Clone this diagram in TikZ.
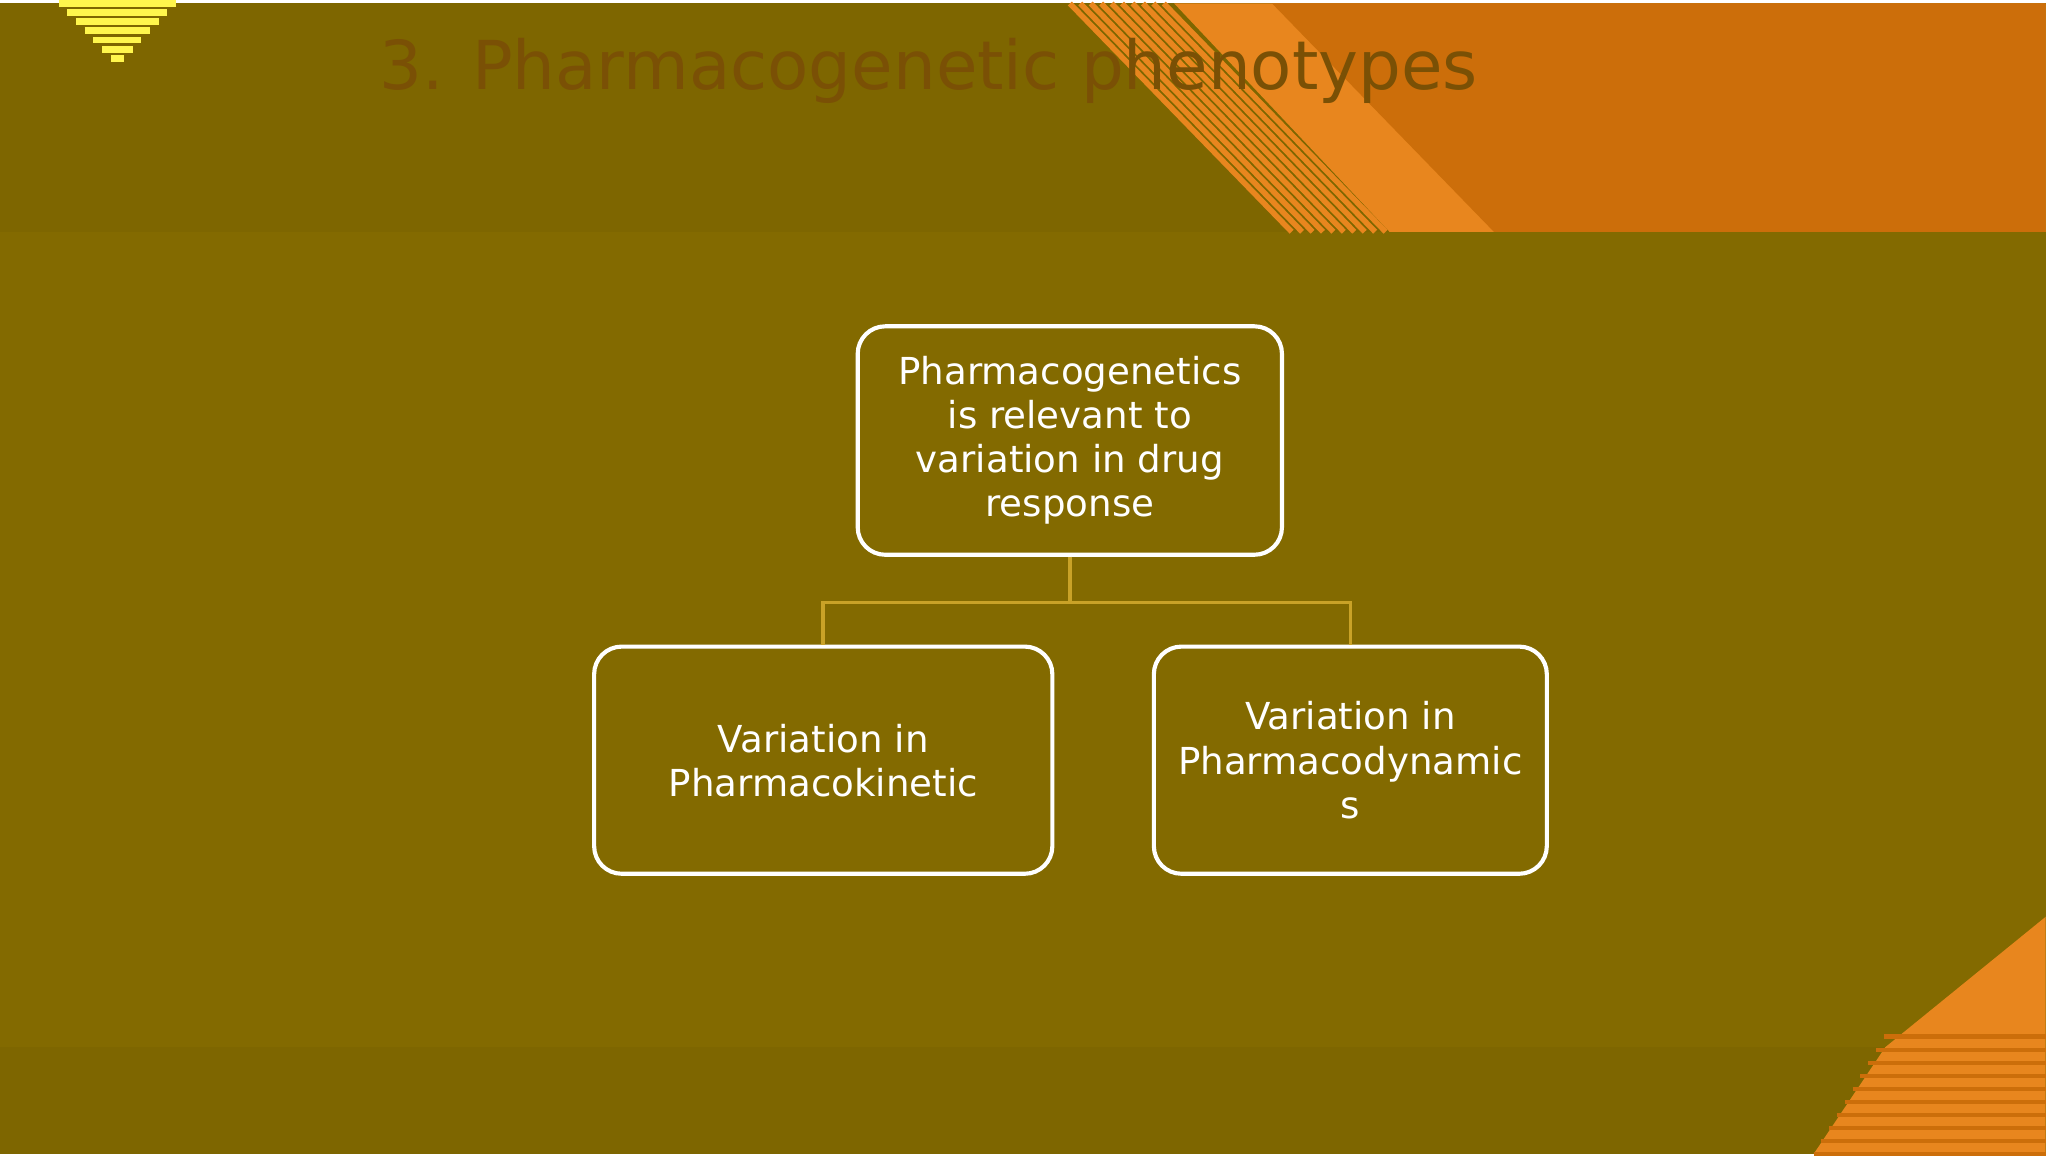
\documentclass[tikz,border=0pt]{standalone}
\usepackage{fontspec}
\setmainfont{DejaVu Sans}
\usetikzlibrary{positioning,calc}
\definecolor{olive}{HTML}{836A00}
\definecolor{oliveband}{HTML}{7E6600}
\definecolor{lightorange}{HTML}{E8861E}
\definecolor{darkorange}{HTML}{CC6E0A}
\definecolor{titlebrown}{HTML}{7A5005}
\definecolor{linkgold}{HTML}{C9A227}
\begin{document}
\begin{tikzpicture}[x=0.01cm,y=-0.01cm]
  \tikzstyle{box}=[draw=white, line width=0.9pt, rounded corners=6pt, align=center, text=white, font=\fontsize{8.1}{9.6}\selectfont, inner sep=0pt]
  \tikzstyle{link}=[-, linkgold, line width=0.8pt]
  
  % Hintergrund
  \fill[olive] (0,0) rectangle (1568,882);
  \fill[oliveband] (0,0) rectangle (1568,175);
  \fill[oliveband] (0,800) rectangle (1568,882);
  \fill[lightorange] (900,0) -- (1568,0) -- (1568,175) -- (1065,175) -- cycle;
  \fill[darkorange] (975,0) -- (1568,0) -- (1568,175) -- (1145,175) -- cycle;
  \foreach \d in {0,8,...,72} {
    \draw[lightorange, line width=1.2pt] (820+\d,0) -- (990+\d,175);
  }
  \foreach \d in {0,7,...,42} {
    \draw[yellow!70!white, line width=1.5pt] (45+\d*0.95,\d) -- (135-\d*0.95,\d);
  }
  \fill[lightorange] (1445,800) -- (1568,700) -- (1568,882) -- (1390,882) -- cycle;
  \foreach \d in {0,10,...,90} {
    \draw[darkorange, line width=1pt] (1390+\d*0.6,882-\d) -- (1568,882-\d);
  }
  
  % Titel
  \node[text=titlebrown, font=\fontsize{14.7}{18}\selectfont, anchor=west, inner sep=0pt] (title) at (290,52) {3. Pharmacogenetic phenotypes};
  
  % Kästen
  \node[box, minimum width=3.25cm, minimum height=1.75cm] (root) at (820,335) {Pharmacogenetics\\is relevant to\\variation in drug\\response};
  \node[box, minimum width=3.51cm, minimum height=1.74cm] (kin) at (631,580) {Variation in\\Pharmacokinetic};
  \node[box, minimum width=3.01cm, minimum height=1.74cm] (dyn) at (1035,580) {Variation in\\Pharmacodynamic\\s};
  
  % Verbindungen
  \draw[link] (root.south) -- ++(0,35) -| (kin.north);
  \draw[link] (root.south) -- ++(0,35) -| (dyn.north);
\end{tikzpicture}
\end{document}
